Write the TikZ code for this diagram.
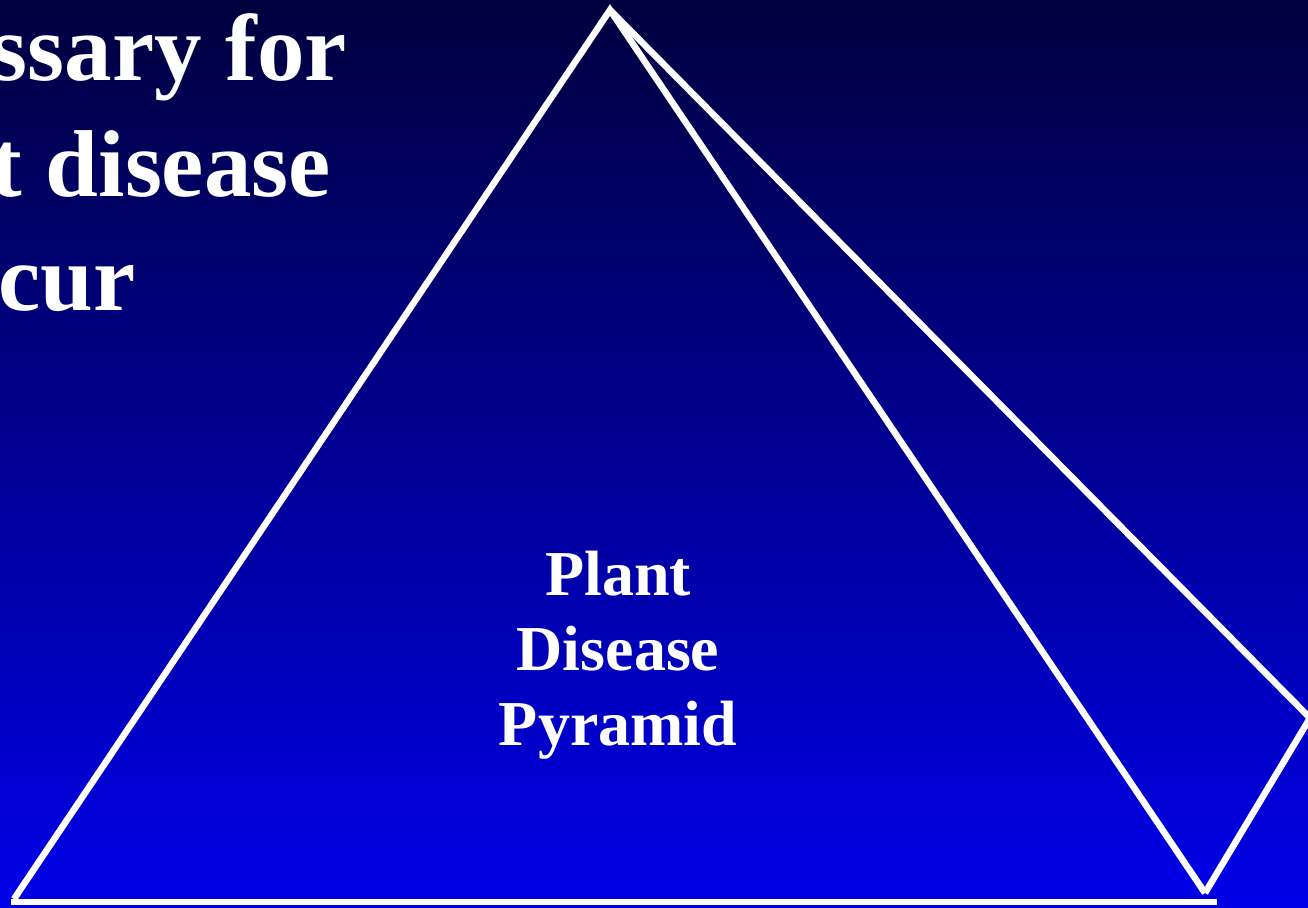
\documentclass[tikz,border=0pt]{standalone}
\usepackage{fontspec}
\setmainfont{Liberation Serif}
\usepackage{tikz}
\usetikzlibrary{positioning,calc}
\definecolor{skytop}{RGB}{0,0,62}
\definecolor{skybottom}{RGB}{0,0,232}

\begin{document}
\begin{tikzpicture}[
  x=1pt, y=-1pt,
  edge/.style={draw=white, line width=6.5pt, line join=miter},
  title/.style={text=white, font=\bfseries\fontsize{95}{115}\selectfont, inner sep=0pt, anchor=base east},
  label/.style={text=white, font=\bfseries\fontsize{64}{75}\selectfont, align=center, inner sep=0pt},
]
\useasboundingbox (0,0) rectangle (1308,907);
\shade[top color=skytop, bottom color=skybottom] (0,0) rectangle (1308,907);
\clip (0,0) rectangle (1308,907);
% heading, cut off at the left edge
\node[title] (t1) at (347,81) {ssary for};
\node[title] (t2) at (331,196) {t disease};
\node[title] (t3) at (136,310) {cur};
% pyramid corners
\coordinate (apex) at (610,10);
\coordinate (left) at (14,899);
\coordinate (front) at (1205,893);
\coordinate (back) at (1310,718);
\coordinate (bl) at (11,902);
\coordinate (br) at (1217,902);
\draw[edge] (left) -- (apex) -- (front);
\draw[edge] (apex) -- (back) -- (front);
\draw[edge] (bl) -- (br);
\node[label, anchor=base] (name) at (618,745) {Plant\\Disease\\Pyramid};
\end{tikzpicture}
\end{document}
